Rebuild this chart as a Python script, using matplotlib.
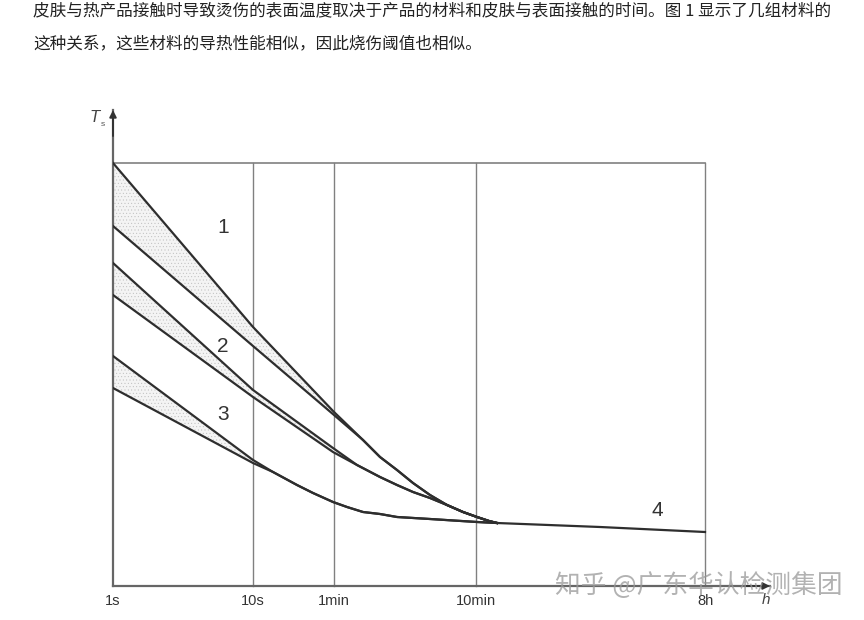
import matplotlib
matplotlib.use("Agg")
import matplotlib.pyplot as plt
import numpy as np

W, H = 864, 620
para_lines = ["皮肤与热产品接触时导致烫伤的表面温度取决于产品的材料和皮肤与表面接触的时间。图 1 显示了几组材料的",
              "这种关系，这些材料的导热性能相似，因此烧伤阈值也相似。"]
tick_pos = [0, 140, 221, 363, 592]
tick_labels = ["1s", "10s", "1min", "10min", "8h"]

x1_tail = [250, 267, 284, 300, 317, 334, 350, 364, 376, 384]
y1_tail = [146, 129, 116, 103, 91, 81, 74, 69, 65, 63]
x1u = [0, 140, 221] + x1_tail
y1u = [423, 259, 174] + y1_tail
x1l = [0, 140, 221] + x1_tail
y1l = [360, 240, 171] + y1_tail
x2_tail = [244, 267, 284, 300, 317, 334, 350, 364, 376, 384]
y2_tail = [121, 109, 101, 94, 88, 81, 74, 69, 65, 63]
x2u = [0, 140, 220] + x2_tail
y2u = [323, 196, 138] + y2_tail
x2l = [0, 140, 220] + x2_tail
y2l = [291, 189, 134] + y2_tail
x3_tail = [160, 184, 200, 220, 234, 250, 267, 284, 317, 364, 384]
y3_tail = [114, 101, 93, 84, 79, 74, 72, 69, 67, 64, 63]
x3u = [0, 140] + x3_tail
y3u = [230, 126] + y3_tail
x3l = [0, 140] + x3_tail
y3l = [198, 123] + y3_tail
x4 = [384, 487, 592]
y4 = [63, 59, 54]
groups = [(x1u, y1u, x1l, y1l), (x2u, y2u, x2l, y2l), (x3u, y3u, x3l, y3l)]

plt.rcParams['font.family'] = ['Liberation Sans', 'DejaVu Sans']
plt.rcParams['hatch.linewidth'] = 0.3
plt.rcParams['hatch.color'] = '#bbbbbb'
fig = plt.figure(figsize=(W / 100, H / 100), dpi=100)
ax = fig.add_axes([113 / W, 1 - 586 / H, 657 / W, 476 / H])
ax.set_xlim(0, 657)
ax.set_ylim(0, 476)
ax.patch.set_alpha(0)
for s in ('top', 'right'):
    ax.spines[s].set_visible(False)
for s in ('left', 'bottom'):
    ax.spines[s].set_color('#666666')
    ax.spines[s].set_linewidth(1.6)

# grid box
for p in tick_pos[1:]:
    ax.plot([p, p], [0, 423], color='#808080', lw=1.0, zorder=1, clip_on=False)
ax.plot([0, 592], [423, 423], color='#808080', lw=1.2, zorder=1)

# shaded bands and curves
for xu, yu, xl, yl in groups:
    xx = np.array(xu, float)
    ax.fill_between(xx, np.interp(xx, xl, yl), yu, facecolor='#f4f4f4', edgecolor='none', hatch='.....', lw=0, zorder=2)
    ax.plot(xu, yu, color='#2e2e2e', lw=1.6, zorder=3, solid_joinstyle='round')
    ax.plot(xl, yl, color='#2e2e2e', lw=1.6, zorder=3, solid_joinstyle='round')
ax.plot(x4, y4, color='#2e2e2e', lw=1.6, zorder=3)

ax.set_xticks(tick_pos, tick_labels, fontsize=10.5, color='#333333')
ax.tick_params(axis='x', length=0, pad=6)
ax.set_yticks([])

# arrows
ax.annotate('', xy=(0, 476), xytext=(0, 450), arrowprops=dict(arrowstyle='-|>', color='#333333', lw=1.4, shrinkA=0, shrinkB=0), annotation_clip=False)
ax.annotate('', xy=(657, 0), xytext=(632, 0), arrowprops=dict(arrowstyle='-|>', color='#333333', lw=1.4, shrinkA=0, shrinkB=0), annotation_clip=False)

# curve numbers
for label, px, py in [("1", 223, 228), ("2", 223, 346), ("3", 223, 414), ("4", 657, 510)]:
    fig.text(px / W, 1 - py / H, label, fontsize=15, color='#333333', ha='center', va='center')

fig.text(95 / W, 1 - 118 / H, "T", fontsize=12, style='italic', color='#444444', ha='center', va='center')
fig.text(103 / W, 1 - 125 / H, "s", fontsize=6, color='#555555', ha='center', va='center')
fig.text(766 / W, 1 - 600 / H, "h", fontsize=11, style='italic', color='#444444', ha='center', va='center')

# paragraph
for txt, py in zip(para_lines, [11, 44]):
    fig.text(33 / W, 1 - py / H, txt, fontsize=11.97, color='#222222', ha='left', va='center',
             family=['Noto Sans CJK SC', 'DejaVu Sans'])

# watermark
fig.text(843 / W, 1 - 586 / H, "知乎 @广东华认检测集团", fontsize=18.5, color='#999999', alpha=0.75,
         ha='right', va='center', family=['Noto Sans CJK SC', 'DejaVu Sans'], zorder=10)

fig.savefig('out.png', dpi=100)
